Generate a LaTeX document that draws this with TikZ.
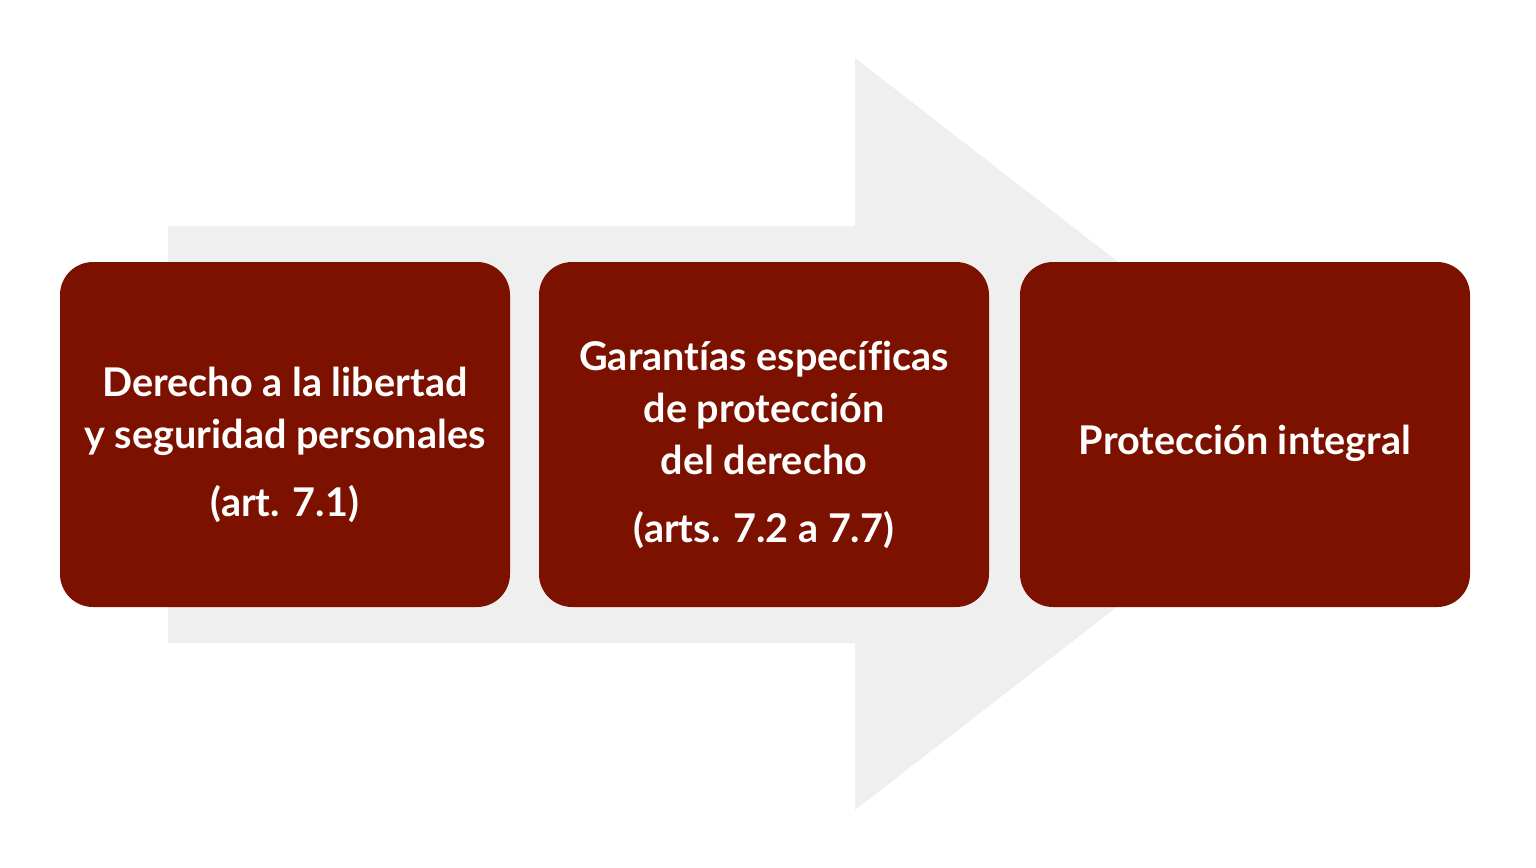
\documentclass[tikz,border=0pt]{standalone}
\usepackage{fontspec}
\setmainfont[Ligatures={NoCommon,NoDiscretionary,NoContextual}]{Lato}
\definecolor{boxred}{HTML}{7D1100}
\definecolor{arrgray}{HTML}{EFEFEF}
\tikzset{
  redbox/.style={fill=boxred, draw=none, rounded corners=24.75pt, minimum width=337.5pt, minimum height=258.75pt, inner sep=0pt},
  boxtext/.style={text=white, align=center, font=\bfseries\fontsize{29.7}{39}\selectfont, inner sep=0pt}
}
\begin{document}
\begin{tikzpicture}[x=0.75pt, y=-0.75pt]
\useasboundingbox (0,0) rectangle (1536,868);
\fill[arrgray] (168,226) -- (855,226) -- (855,58) -- (1340,434) -- (855,810) -- (855,643) -- (168,643) -- cycle;
\node[redbox] (b1) at (285,434.5) {};
\node[redbox] (b2) at (764,434.5) {};
\node[redbox] (b3) at (1245,434.5) {};
\node[boxtext] (t1) at (285,445) {Derecho a la libertad\\y seguridad personales\\[12pt](art. 7.1)};
\node[boxtext] (t2) at (764,445) {Garantías específicas\\de protección\\del derecho\\[12pt](arts. 7.2 a 7.7)};
\node[boxtext] (t3) at (1245,443) {Protección integral};
\end{tikzpicture}
\end{document}
